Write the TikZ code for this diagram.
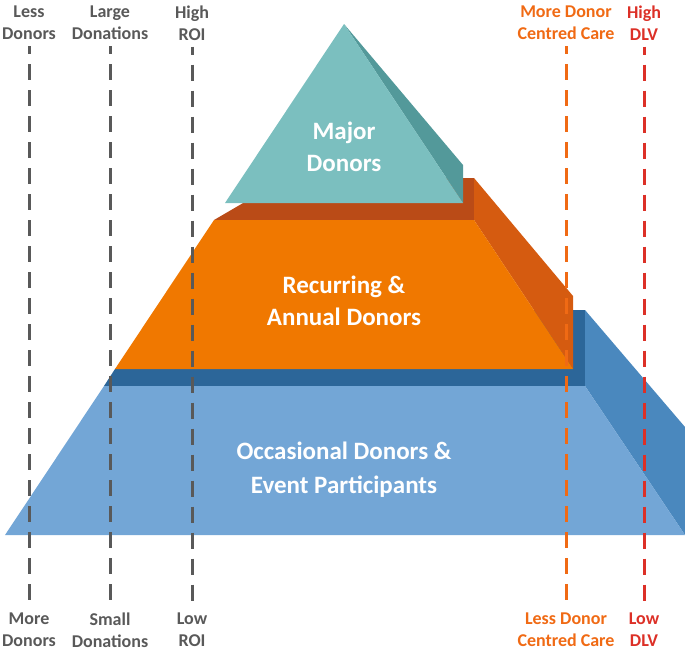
\documentclass[tikz,border=0pt]{standalone}
\usepackage{fontspec}
\setmainfont{Carlito}
\definecolor{tealfront}{HTML}{7BBFBF}
\definecolor{tealside}{HTML}{53999A}
\definecolor{orangefront}{HTML}{F07800}
\definecolor{orangetop}{HTML}{BA4B17}
\definecolor{orangeside}{HTML}{D55B10}
\definecolor{bluefront}{HTML}{73A6D6}
\definecolor{bluetop}{HTML}{2C6699}
\definecolor{blueside}{HTML}{4A88BE}
\definecolor{guidegray}{HTML}{595959}
\definecolor{guideorange}{HTML}{F06A14}
\definecolor{guidered}{HTML}{DC3027}
\usetikzlibrary{positioning}

\begin{document}
\begin{tikzpicture}[
  x=1pt, y=-1pt,
  tier/.style={
    text=white, align=center, inner sep=0pt,
    font=\fontsize{25}{32}\selectfont\bfseries
  },
  axislabel/.style={
    align=center, inner sep=0pt,
    font=\fontsize{18}{22}\selectfont\bfseries
  },
  guide/.style={
    line width=3pt,
    dash pattern=on 16pt off 10pt, dash phase=8pt,
    shorten <=6pt, shorten >=6pt
  }
]
\useasboundingbox (0,0) rectangle (685,653);

% bottom tier
\fill[bluetop] (104,386) -- (115,369) -- (200,310) -- (585,310) -- (585,386) -- cycle;
\fill[blueside] (585,386) -- (585,310) -- (685,427) -- (685,535) -- cycle;
\fill[bluefront] (5,535) -- (104,386) -- (585,386) -- (685,535) -- cycle;

% middle tier
\fill[orangetop] (214,220) -- (286,178) -- (474,178) -- (474,220) -- cycle;
\fill[orangeside] (474,220) -- (474,178) -- (573,296) -- (573,369) -- cycle;
\fill[orangefront] (115,369) -- (214,220) -- (474,220) -- (573,369) -- cycle;

% top tier
\fill[tealside] (344,24) -- (463,165) -- (463,203) -- cycle;
\fill[tealfront] (344,24) -- (225,203) -- (463,203) -- cycle;

\node[tier] (major) at (344,147) {Major\\Donors};
\node[tier] (recurring) at (344,301) {Recurring \&\\Annual Donors};
\node[tier, font=\fontsize{25}{34}\selectfont\bfseries] (occasional) at (344,470)
  {Occasional Donors \&\\Event Participants};

% scales
\node[axislabel, text=guidegray] (lessT) at (29,23) {Less\\Donors};
\node[axislabel, text=guidegray] (largeT) at (110,23) {Large\\Donations};
\node[axislabel, text=guidegray] (highroiT) at (192,23) {High\\ROI};
\node[axislabel, text=guideorange] (careT) at (566,23) {More Donor\\Centred Care};
\node[axislabel, text=guidered] (dlvT) at (644,23) {High\\DLV};

\node[axislabel, text=guidegray] (moreB) at (29,630) {More\\Donors};
\node[axislabel, text=guidegray] (smallB) at (110,630) {Small\\Donations};
\node[axislabel, text=guidegray] (lowroiB) at (192,630) {Low\\ROI};
\node[axislabel, text=guideorange] (careB) at (566,630) {Less Donor\\Centred Care};
\node[axislabel, text=guidered] (dlvB) at (644,630) {Low\\DLV};

\draw[guide, guidegray] (lessT) -- (moreB);
\draw[guide, guidegray] (largeT) -- (smallB);
\draw[guide, guidegray] (highroiT) -- (lowroiB);
\draw[guide, guideorange] (careT) -- (careB);
\draw[guide, guidered] (dlvT) -- (dlvB);
\end{tikzpicture}
\end{document}
